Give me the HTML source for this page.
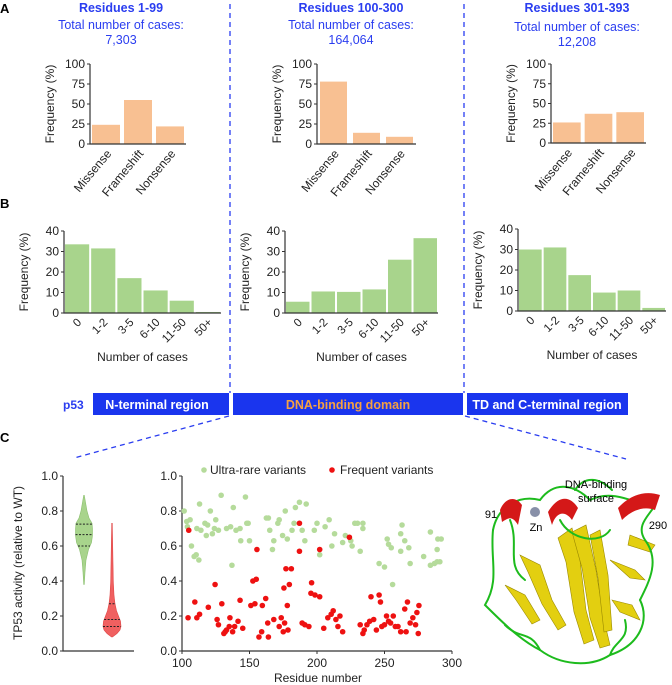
<!DOCTYPE html>
<html><head><meta charset="utf-8"><style>
body{margin:0;background:#fff}
svg{display:block;font-family:"Liberation Sans",sans-serif}
</style></head><body>
<svg id="fig" width="672" height="685" viewBox="0 0 672 685" xmlns="http://www.w3.org/2000/svg">
<g id="static" fill="#000">
<text x="0" y="13" font-size="13" font-weight="bold">A</text>
<text x="0" y="208" font-size="13" font-weight="bold">B</text>
<text x="0" y="442" font-size="13" font-weight="bold">C</text>
<g fill="#2a3df0" text-anchor="middle" font-size="12.5">
<text x="121" y="12" font-weight="bold">Residues 1-99</text>
<text x="121" y="29">Total number of cases:</text>
<text x="121" y="44">7,303</text>
<text x="351" y="12" font-weight="bold">Residues 100-300</text>
<text x="351" y="29">Total number of cases:</text>
<text x="351" y="44">164,064</text>
<text x="577" y="12" font-weight="bold">Residues 301-393</text>
<text x="577" y="31">Total number of cases:</text>
<text x="577" y="46">12,208</text>
</g>
<g stroke="#2a3df0" stroke-width="1.3" stroke-dasharray="5,4" fill="none">
<line x1="230" y1="4" x2="230" y2="393"/>
<line x1="464" y1="4" x2="464" y2="393"/>
<line x1="229" y1="416" x2="74" y2="458"/>
<line x1="465" y1="416" x2="626" y2="459"/>
</g>
<text x="63" y="409" font-size="12" font-weight="bold" fill="#2a3df0">p53</text>
<rect x="93" y="393" width="136" height="22" fill="#1a35ee"/>
<rect x="233" y="393" width="230" height="22" fill="#1a35ee"/>
<rect x="467" y="393" width="161" height="22" fill="#1a35ee"/>
<g font-size="12.5" font-weight="bold" text-anchor="middle">
<text x="157" y="409" fill="#fff">N-terminal region</text>
<text x="348" y="409" fill="#f5a142">DNA-binding domain</text>
<text x="547" y="409" fill="#fff">TD and C-terminal region</text>
</g>
</g>
<g id="charts"></g>
<g id="protein">
<g fill="#e3cf10" stroke="#9a8a00" stroke-width="0.6">
<polygon points="558,538 572,528 580,560 586,610 594,640 584,644 574,612 566,562"/>
<polygon points="572,532 586,525 596,570 604,620 610,645 600,648 590,618 582,568"/>
<polygon points="590,535 600,530 608,575 612,630 604,632 598,578"/>
<polygon points="520,555 540,565 552,600 566,625 558,630 542,604 528,572"/>
<polygon points="505,585 525,595 540,620 532,624 516,600"/>
<polygon points="610,560 635,570 645,580 630,578"/>
<polygon points="612,600 632,605 640,620 620,612"/>
<polygon points="630,535 655,545 650,552 628,545"/>
</g>
<g fill="none" stroke="#1dbb1d" stroke-width="2" stroke-linecap="round">
<path d="M493,530 C498,505 520,495 540,500 C555,480 575,485 590,500 C610,490 630,500 645,505"/>
<path d="M493,530 C490,560 500,580 485,605 C500,620 520,640 540,650 C560,665 590,668 610,655 C640,645 650,620 640,600"/>
<path d="M510,520 C520,545 505,565 525,580 M560,520 C570,540 600,545 610,530"/>
<path d="M640,600 C650,580 660,560 645,540 C635,525 650,515 655,505"/>
<path d="M540,650 C530,630 520,640 505,625 M610,655 C615,640 630,640 625,620"/>
<path d="M575,490 C585,475 600,478 612,490"/>
</g>
<g fill="#d41818">
<path d="M500,510 C505,498 515,495 522,505 L518,525 C512,515 508,518 502,522 Z"/>
<path d="M548,512 C558,495 570,495 578,508 L572,520 C565,510 556,512 552,525 Z"/>
<path d="M618,508 C630,495 645,490 660,495 L655,510 C642,505 630,512 622,520 Z"/>
</g>
<circle cx="535" cy="512" r="5" fill="#8890a8"/>
<g font-size="11" text-anchor="middle">
<text x="596" y="488">DNA-binding</text>
<text x="596" y="502">surface</text>
<text x="491" y="518">91</text>
<text x="536" y="531">Zn</text>
<text x="658" y="529">290</text>
</g>
</g>
</svg>
<script>
// Panel A data
const aCategories = ["Missense","Frameshift","Nonsense"];
const aValues1 = [24,55,22];
const aValues2 = [78,14,9];
const aValues3 = [26,37,39];
const aTicks = [0,25,50,75,100];
// Panel B data
const bCategories = ["0","1-2","3-5","6-10","11-50","50+"];
const bValues1 = [33.5,31.5,17,11,6,0.5];
const bValues2 = [5.5,10.5,10.3,11.5,26,36.5];
const bValues3 = [30,31,17.5,9,10,1.5];
const bTicks = [0,10,20,30,40];
// Panel C violin data
const violinTicks = [0,0.2,0.4,0.6,0.8,1.0];
const greenViolinY = [0.38,0.45,0.52,0.58,0.62,0.66,0.70,0.73,0.76,0.80,0.85,0.89];
const greenViolinW = [0.3,1,2,4.5,7.5,8.5,8.5,8,5,3,1.5,0.3];
const greenQuartiles = [0.60,0.665,0.725];
const redViolinY = [0.08,0.10,0.12,0.14,0.17,0.20,0.23,0.27,0.32,0.40,0.50,0.60,0.73];
const redViolinW = [0.5,5,8,9,8.5,6.5,4.5,3,2,1.3,1,0.7,0.3];
const redQuartiles = [0.14,0.18,0.27];
// Panel C scatter data
const scatterXTicks = [100,150,200,250,300];
const scatterYTicks = [0,0.2,0.4,0.6,0.8,1.0];
const rareX = [101.6,103.5,106,104,107,109,110.5,112.5,111,114,113,117,119,121,118,122.5,124,125,127,129,133,136,138,137,140,143,143.5,147,148,149,150,162.5,164,165,167,168,171,172,174.5,176.5,178,181.5,183,184,187,192,191,189,198,200,202,206,209,211,213,219,221,225,226,228,230,232,234,234,246,250,252,253,255,262,263,262,265,268,269,256,279,284,284,287,289,291,289,289.5,292];
const rareY = [0.80,0.74,0.75,0.71,0.60,0.54,0.55,0.52,0.70,0.69,0.84,0.73,0.72,0.80,0.66,0.67,0.70,0.75,0.69,0.89,0.70,0.71,0.82,0.49,0.69,0.70,0.63,0.88,0.73,0.73,0.63,0.76,0.76,0.69,0.58,0.63,0.73,0.75,0.66,0.80,0.64,0.69,0.73,0.82,0.85,0.84,0.63,0.69,0.69,0.73,0.55,0.71,0.75,0.60,0.67,0.62,0.66,0.63,0.60,0.73,0.73,0.57,0.73,0.70,0.50,0.48,0.64,0.61,0.59,0.67,0.72,0.57,0.63,0.59,0.50,0.38,0.54,0.68,0.49,0.50,0.51,0.51,0.58,0.64,0.64];
const freqX = [105,104.5,109.5,111,113,119.5,124.5,126,127,129.5,131,132,133,135,135.5,137.5,139,141.5,143,145,151,152.5,154,155,155.5,157,159,159.5,162,163.5,164,168,172,173.5,175,175.5,176,177,178,179.5,181,178.5,187,187,189,191,194,196,195.5,198.5,202,202,205,208,210.5,212,214,215.5,217,219,224,232,234,235,237,239,240,242,244,246,247,248,250,251.5,253,254.5,256.5,258,260,262,265,266,267,269,271,273,274,275.5,275];
const freqY = [0.69,0.19,0.28,0.19,0.21,0.25,0.38,0.18,0.15,0.27,0.10,0.11,0.12,0.14,0.19,0.11,0.14,0.17,0.29,0.13,0.26,0.40,0.27,0.41,0.58,0.08,0.11,0.26,0.30,0.16,0.08,0.18,0.14,0.19,0.11,0.36,0.16,0.47,0.26,0.38,0.47,0.12,0.73,0.57,0.16,0.15,0.14,0.39,0.33,0.32,0.58,0.31,0.13,0.19,0.21,0.23,0.18,0.14,0.20,0.11,0.65,0.15,0.10,0.12,0.15,0.17,0.31,0.18,0.12,0.32,0.28,0.14,0.15,0.20,0.17,0.16,0.20,0.14,0.14,0.11,0.24,0.11,0.28,0.16,0.19,0.15,0.22,0.26,0.10];

const NS="http://www.w3.org/2000/svg";
const root=document.getElementById('charts');
function mk(tag,attrs,parent){const e=document.createElementNS(NS,tag);for(const k in attrs)e.setAttribute(k,attrs[k]);(parent||root).appendChild(e);return e;}
function txt(x,y,s,size,anchor,parent){const t=mk('text',{x:x,y:y,'font-size':size,'text-anchor':anchor||'middle',fill:'#222'},parent);t.textContent=s;return t;}

function barChart(ax,x0,x1,yTop,yBot,vmax,ticks,cats,vals,color,gap,labelOffset,rot,xTitle,idx,lsize){
  const g=mk('g',{});
  
  
  const ys=v=>yBot-(v/vmax)*(yBot-yTop);
  const bw=(x1-x0)/cats.length;
  vals.forEach((v,i)=>{
    const r=mk('rect',{x:x0+i*bw+gap,y:ys(v),width:bw-2*gap,height:yBot-ys(v),fill:color},g);
    
    
    const l=txt(0,0,cats[i],lsize,'end',g);
    const cx=x0+i*bw+bw/2+labelOffset, cy=yBot+10;
    l.setAttribute('transform','translate('+cx+','+cy+') rotate('+rot+')');
    
    
  });
  const axis=mk('path',{d:'M'+x0+','+yTop+' V'+yBot+' H'+x1,stroke:'#333',fill:'none','stroke-width':1.2},g);
  
  
  ticks.forEach(t=>{
    mk('line',{x1:x0-3,x2:x0,y1:ys(t),y2:ys(t),stroke:'#333'},g);
    const l=txt(x0-5,ys(t)+4,String(t),12,'end',g);
    
    
  });
  const yl=txt(0,0,'Frequency (%)',12,'middle',g);
  yl.setAttribute('transform','translate('+(x0-36)+','+((yTop+yBot)/2)+') rotate(-90)');
  
  
  if(xTitle){const xt=txt((x0+x1)/2,yBot+48,xTitle,12,'middle',g);
    
    }
}
const orange='#f8c092', green='#a8d48c';
barChart('a',90,186,64,144,100,aTicks,aCategories,aValues1,orange,2,6,-50,null,1,12);
barChart('a',317,416,64,144,100,aTicks,aCategories,aValues2,orange,3,6,-50,null,2,12);
barChart('a',551,646,64,143,100,aTicks,aCategories,aValues3,orange,2,6,-50,null,3,12);
barChart('b',64,221,231,313,40,bTicks,bCategories,bValues1,green,1,5,-45,'Number of cases',1,11.5);
barChart('b',285,438,231,313,40,bTicks,bCategories,bValues2,green,1,5,-45,'Number of cases',2,11.5);
barChart('b',518,666,229,311,40,bTicks,bCategories,bValues3,green,1,5,-45,'Number of cases',3,11.5);

// Violin
const vY0=651,vY1=476;
const vy=v=>vY0-v*(vY0-vY1);
const vg=mk('g',{});


mk('path',{d:'M63,'+vY1+' V'+vY0+' H134',stroke:'#333',fill:'none','stroke-width':1.2},vg);
violinTicks.forEach(t=>{mk('line',{x1:60,x2:63,y1:vy(t),y2:vy(t),stroke:'#333'},vg);
  const l=txt(58,vy(t)+4,t.toFixed(1),12,'end',vg);
  
  });
const vt=txt(0,0,'TP53 activity (relative to WT)',12,'middle',vg);
vt.setAttribute('transform','translate(22,563) rotate(-90)');


function violin(cx,Y,W,Q,fill,stroke,name){
  let d='M'+cx+','+vy(Y[0]);
  Y.forEach((y,i)=>{d+=' L'+(cx+W[i])+','+vy(y);});
  for(let i=Y.length-1;i>=0;i--)d+=' L'+(cx-W[i])+','+vy(Y[i]);
  const p=mk('path',{d:d+'Z',fill:fill,stroke:stroke,'stroke-width':0.6},vg);
  
  
  Q.forEach(q=>{let w=0;for(let i=0;i<Y.length-1;i++){if(q>=Y[i]&&q<=Y[i+1]){w=W[i]+(W[i+1]-W[i])*(q-Y[i])/(Y[i+1]-Y[i]);}}
    mk('line',{x1:cx-w,x2:cx+w,y1:vy(q),y2:vy(q),stroke:'#222','stroke-dasharray':'2,1.5','stroke-width':1},vg);});
}
violin(84,greenViolinY,greenViolinW,greenQuartiles,'#a8d48c','#8cc070','violin-ultra-rare');
violin(112,redViolinY,redViolinW,redQuartiles,'#f06060','#e04848','violin-frequent');

// Scatter
const sx=v=>182+(v-100)*(452-182)/200;
const sy=v=>651-v*175;
const sg=mk('g',{});


mk('path',{d:'M182,476 V651 H452',stroke:'#333',fill:'none','stroke-width':1.2},sg);
scatterYTicks.forEach(t=>{mk('line',{x1:179,x2:182,y1:sy(t),y2:sy(t),stroke:'#333'},sg);
  const l=txt(177,sy(t)+4,t.toFixed(1),12,'end',sg);
  
  });
scatterXTicks.forEach(t=>{mk('line',{x1:sx(t),x2:sx(t),y1:651,y2:654,stroke:'#333'},sg);
  const l=txt(sx(t),667,String(t),12,'middle',sg);
  
  });
const xt=txt(318,682,'Residue number',12,'middle',sg);


rareX.forEach((x,i)=>{const c=mk('circle',{cx:sx(x),cy:sy(rareY[i]),r:2.8,fill:'#b5db9b'},sg);
  
  });
freqX.forEach((x,i)=>{const c=mk('circle',{cx:sx(x),cy:sy(freqY[i]),r:2.8,fill:'#ee1111'},sg);
  
  });
const lg1=mk('g',{},sg);


mk('circle',{cx:204,cy:470,r:2.8,fill:'#b5db9b'},lg1);txt(210,474,'Ultra-rare variants',12,'start',lg1);
const lg2=mk('g',{},sg);


mk('circle',{cx:332,cy:470,r:2.8,fill:'#ee1111'},lg2);txt(340,474,'Frequent variants',12,'start',lg2);
</script>
</body></html>
